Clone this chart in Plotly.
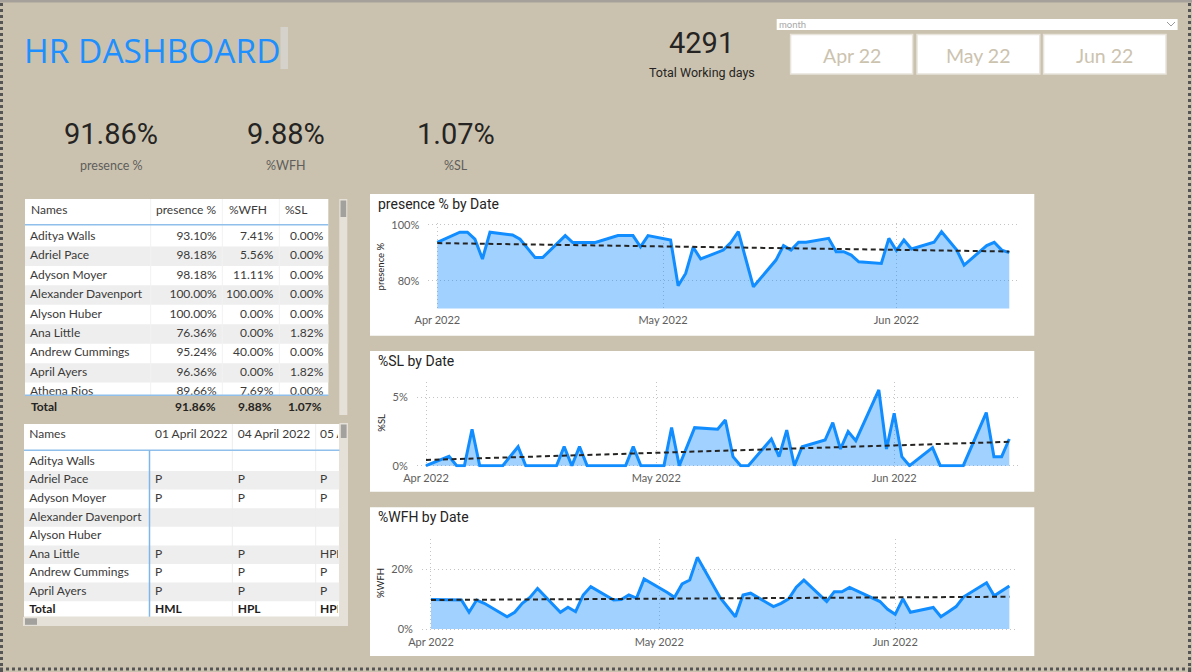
import numpy as np
import pandas as pd
import plotly.graph_objects as go

W, H = 1192, 672

# ---------------- data ----------------
dates = [
    "2022-04-01", "2022-04-04", "2022-04-05", "2022-04-06", "2022-04-07", "2022-04-08",
    "2022-04-11", "2022-04-12", "2022-04-13", "2022-04-14", "2022-04-15",
    "2022-04-18", "2022-04-19", "2022-04-20", "2022-04-21", "2022-04-22",
    "2022-04-25", "2022-04-26", "2022-04-27", "2022-04-28", "2022-04-29",
    "2022-05-02", "2022-05-03", "2022-05-04", "2022-05-05", "2022-05-06",
    "2022-05-09", "2022-05-10", "2022-05-11", "2022-05-12", "2022-05-13",
    "2022-05-16", "2022-05-17", "2022-05-18", "2022-05-19", "2022-05-20",
    "2022-05-23", "2022-05-24", "2022-05-25", "2022-05-26", "2022-05-27",
    "2022-05-30", "2022-05-31",
    "2022-06-01", "2022-06-02", "2022-06-03",
    "2022-06-06", "2022-06-07", "2022-06-08", "2022-06-09", "2022-06-10",
    "2022-06-13", "2022-06-14", "2022-06-15", "2022-06-16",
]

presence_pct = [
    93.8, 97.4, 97.4, 94.9, 87.8, 97.4, 96.4, 94.9, 91.6, 88.3, 88.3,
    96.2, 93.7, 93.7, 93.7, 93.7, 96.2, 96.2, 96.2, 92.2, 96.2,
    94.6, 78.2, 82.6, 92.0, 87.8, 91.0, 93.7, 97.6, 87.7, 77.8,
    87.4, 92.6, 91.0, 93.8, 93.8, 95.2, 90.4, 90.4, 89.2, 86.8, 86.2, 95.2,
    90.8, 94.6, 91.4, 93.8, 97.6, 94.4, 91.1, 85.6, 92.6, 93.8, 91.0, 90.1,
]

sl_pct = [
    0.0, 0.69, 0.0, 0.0, 2.66, 0.0, 0.0, 0.69, 1.39, 0.0, 0.0,
    0.0, 1.39, 0.0, 1.39, 0.0, 0.0, 0.0, 0.0, 1.39, 0.0,
    0.0, 2.78, 0.0, 1.39, 2.78, 2.66, 3.34, 0.66, 0.0, 0.0,
    1.95, 0.66, 2.6, 0.0, 1.39, 1.88, 3.15, 1.22, 2.49, 1.83, 5.54, 1.22,
    3.83, 0.66, 0.0, 1.32, 0.0, 0.0, 0.0, 0.0, 3.88, 0.66, 0.66, 1.95,
]

wfh_pct = [
    9.9, 9.7, 9.7, 5.6, 9.7, 8.6, 4.1, 5.6, 8.6, 10.6, 13.6,
    5.6, 7.3, 5.8, 11.4, 14.2, 9.7, 9.9, 11.4, 10.3, 16.8,
    12.3, 10.6, 15.1, 16.4, 24.0, 10.5, 7.3, 4.1, 11.4, 12.0,
    7.5, 8.6, 10.1, 14.0, 16.4, 9.2, 12.5, 12.5, 13.9, 12.7, 9.2, 6.6,
    4.9, 10.1, 5.6, 7.2, 4.1, 5.8, 7.5, 10.8, 15.5, 11.1, 12.8, 14.4,
]

month_ticks = ["2022-04-01", "2022-05-01", "2022-06-01"]
month_tick_labels = ["Apr 2022", "May 2022", "Jun 2022"]
slicer_months = ["Apr 22", "May 22", "Jun 22"]

total_working_days = 4291
kpi_values = [91.86, 9.88, 1.07]
kpi_labels = ["presence %", "%WFH", "%SL"]

t1_headers = ["Names", "presence %", "%WFH", "%SL"]
t1_names = ["Aditya Walls", "Adriel Pace", "Adyson Moyer", "Alexander Davenport",
            "Alyson Huber", "Ana Little", "Andrew Cummings", "April Ayers", "Athena Rios"]
t1_presence = [93.10, 98.18, 98.18, 100.00, 100.00, 76.36, 95.24, 96.36, 89.66]
t1_wfh = [7.41, 5.56, 11.11, 100.00, 0.00, 0.00, 40.00, 0.00, 7.69]
t1_sl = [0.00, 0.00, 0.00, 0.00, 0.00, 1.82, 0.00, 1.82, 0.00]
t1_total = ["Total", 91.86, 9.88, 1.07]

t2_headers = ["Names", "01 April 2022", "04 April 2022", "05 April 2022"]
t2_names = ["Aditya Walls", "Adriel Pace", "Adyson Moyer", "Alexander Davenport",
            "Alyson Huber", "Ana Little", "Andrew Cummings", "April Ayers"]
t2_d1 = ["", "P", "P", "", "", "P", "P", "P"]
t2_d2 = ["", "P", "P", "", "", "P", "P", "P"]
t2_d3 = ["", "P", "P", "", "", "HPL", "P", "P"]
t2_total = ["Total", "HML", "HPL", "HPL"]

# ---------------- styling helpers ----------------
BG = "#CAC2AE"
BLUE = "#118DFF"
FILL = "rgba(17,141,255,0.40)"
DARK = "#252423"
MID = "#605E5C"
TXT = "#3B3A39"
GRID = "#C4C4C4"
UI = "Segoe UI, Lato, sans-serif"
DIN = "DIN, Roboto, sans-serif"


def px(x):
    return x / W


def py(y):
    return 1 - y / H


shapes = []
annotations = []


def rect(x0, y0, x1, y1, fill, line=None, lw=0, layer="below", dash=None):
    d = dict(type="rect", xref="paper", yref="paper", x0=px(x0), x1=px(x1),
             y0=py(y1), y1=py(y0), fillcolor=fill, layer=layer,
             line=dict(width=lw, color=line or fill))
    if dash:
        d["line"]["dash"] = dash
    shapes.append(d)


def hline(x0, x1, y, color, lw=1, dash=None, layer="above"):
    d = dict(type="line", xref="paper", yref="paper", x0=px(x0), x1=px(x1),
             y0=py(y), y1=py(y), layer=layer, line=dict(color=color, width=lw))
    if dash:
        d["line"]["dash"] = dash
    shapes.append(d)


def vline(x, y0, y1, color, lw=1, dash=None, layer="above"):
    d = dict(type="line", xref="paper", yref="paper", x0=px(x), x1=px(x),
             y0=py(y0), y1=py(y1), layer=layer, line=dict(color=color, width=lw))
    if dash:
        d["line"]["dash"] = dash
    shapes.append(d)


def ann(x, y, text, size, color, family=UI, xanchor="left", weight="normal", angle=0):
    annotations.append(dict(x=px(x), y=py(y), xref="paper", yref="paper", text=text,
                            showarrow=False, xanchor=xanchor, yanchor="middle",
                            textangle=angle,
                            font=dict(size=size, color=color, family=family, weight=weight)))


fig = go.Figure()

# ---------------- frame ----------------
hline(0, W, 1.2, "#A5A19A", lw=2.5)
vline(1.5, 3, H, "#555555", lw=3, dash="dot")
vline(1189.5, 3, H, "#555555", lw=3, dash="dot")
hline(0, W, 669, "#555555", lw=3, dash="dot")

# ---------------- header ----------------
ann(22, 50, "HR DASHBOARD", 33.5, "#1E8FFF", family="Open Sans, Segoe UI, sans-serif")
rect(280.5, 27, 288, 69, "#D5D2CB")

ann(701, 43, str(total_working_days), 29, DARK, family=DIN, xanchor="center")
ann(702, 73, "Total Working days", 12.5, DARK, family=DIN, xanchor="center")

rect(776.7, 19, 1177.6, 30, "white")
ann(777, 24.5, "month", 9.5, "#A8A8A8")
shapes.append(dict(type="path", xref="paper", yref="paper", layer="above",
                   path=f"M {px(1167)} {py(22)} L {px(1171)} {py(26)} L {px(1175)} {py(22)}",
                   line=dict(color="#9A9A9A", width=1)))
box_x = [(790.6, 912.6), (917, 1039.8), (1043.6, 1166)]
for (x0, x1), m in zip(box_x, slicer_months):
    rect(x0, 34.5, x1, 74, "white", line="#E8E4DC", lw=1.5)
    ann((x0 + x1) / 2, 55, m, 19.5, "#CCC3AF", xanchor="center")

# ---------------- KPI cards ----------------
kpi_x = [111, 286, 456]
for x, v, lab in zip(kpi_x, kpi_values, kpi_labels):
    ann(x, 133.5, f"{v:.2f}%", 29, DARK, family=DIN, xanchor="center")
    ann(x, 165.5, lab, 12.5, MID, xanchor="center")

# ---------------- charts ----------------
charts = [
    dict(vals=presence_pct, box=(370, 194, 1034.3, 335.7), apr1=437.3, ppd=7.526,
         ref=((100, 225.0), (80, 280.7)), yr=[70, 100.6], tickvals=[80, 100],
         title="presence % by Date", title_y=204, ytitle="presence %", ytitle_y=266.7),
    dict(vals=sl_pct, box=(370, 351, 1034.3, 491.7), apr1=426.0, ppd=7.675,
         ref=((5, 397.3), (0, 465.7)), yr=[-0.12, 6.14], tickvals=[0, 5],
         title="%SL by Date", title_y=360.7, ytitle="%SL", ytitle_y=423),
    dict(vals=wfh_pct, box=(370, 507.3, 1034.3, 656), apr1=431.0, ppd=7.61,
         ref=((20, 569.3), (0, 629.0)), yr=[-0.6, 30.05], tickvals=[0, 20],
         title="%WFH by Date", title_y=516.7, ytitle="%WFH", ytitle_y=583.3),
]

d0 = pd.Timestamp(dates[0])
dt = pd.to_datetime(dates)
day_num = np.array((dt - d0).days, dtype=float)
pad_l, pad_r = 1.2, 1.17
x_start = d0 - pd.Timedelta(days=pad_l)
x_end = dt[-1] + pd.Timedelta(days=pad_r)

layout_axes = {}
for i, c in enumerate(charts):
    n = "" if i == 0 else str(i + 1)
    xa, ya = "x" + n, "y" + n
    bx0, by0, bx1, by1 = c["box"]
    rect(bx0, by0, bx1, by1, "white")
    (va, pa), (vb, pb) = c["ref"]
    k = (pb - pa) / (vb - va)
    lo, hi = c["yr"]
    y_lo_px = pa + (lo - va) * k
    y_hi_px = pa + (hi - va) * k
    x0_px = c["apr1"] - pad_l * c["ppd"]
    x1_px = c["apr1"] + (day_num[-1] + pad_r) * c["ppd"]

    fig.add_trace(go.Scatter(x=dates, y=c["vals"], mode="lines", xaxis=xa, yaxis=ya,
                             line=dict(color=BLUE, width=3), fill="tozeroy",
                             fillcolor=FILL, hoverinfo="skip"))
    slope, icpt = np.polyfit(day_num, np.array(c["vals"]), 1)
    fig.add_trace(go.Scatter(x=[dates[0], dates[-1]],
                             y=[icpt + slope * day_num[0], icpt + slope * day_num[-1]],
                             mode="lines", xaxis=xa, yaxis=ya, hoverinfo="skip",
                             line=dict(color=DARK, width=2, dash="5px,3.5px")))

    layout_axes["xaxis" + n] = dict(
        domain=[px(x0_px), px(x1_px)], anchor=ya, type="date",
        range=[x_start.strftime("%Y-%m-%d %H:%M"), x_end.strftime("%Y-%m-%d %H:%M")],
        tickmode="array", tickvals=month_ticks, ticktext=month_tick_labels, ticks="",
        showgrid=True, gridcolor=GRID, griddash="1px,3px", gridwidth=1,
        zeroline=False, showline=False, ticklabelstandoff=3, automargin=False,
        tickfont=dict(family=UI, size=11, color=MID), fixedrange=True)
    layout_axes["yaxis" + n] = dict(
        domain=[py(y_lo_px), py(y_hi_px)], anchor=xa, range=c["yr"],
        tickmode="array", tickvals=c["tickvals"],
        ticktext=[f"{v}%" for v in c["tickvals"]], ticks="",
        showgrid=True, gridcolor=GRID, griddash="1px,3px", gridwidth=1,
        zeroline=False, showline=False, ticklabelstandoff=8, automargin=False,
        tickfont=dict(family=UI, size=11, color=MID), fixedrange=True)

    ann(376, c["title_y"], c["title"], 14, DARK, family=DIN)
    ann(380.7, c["ytitle_y"], c["ytitle"], 9.5, DARK, angle=-90, xanchor="center")

# ---------------- table 1 ----------------
T1X0, T1X1, T1Y0, T1Y1 = 25, 328.3, 199, 395
rect(T1X0, T1Y0, T1X1, T1Y1, "white")
r1_top, r1_h = 227.0, 19.45
for i in range(len(t1_names)):
    if i % 2 == 1:
        rect(T1X0, r1_top + i * r1_h, T1X1, min(r1_top + (i + 1) * r1_h, T1Y1), "#EEEEEE")
for xs in (150.7, 222.3, 279.3):
    vline(xs, 199, 395, "#F2F2F2", lw=1, layer="below")
hline(T1X0, T1X1, 224.8, "#8FBFEA", lw=1.5)
hline(T1X0, T1X1, 395.3, "#8FBFEA", lw=1.5)

t1_col_right = [216.7, 273.3, 323.3]
t1_head_left = [30, 155, 228, 284]
for x, h in zip(t1_head_left, t1_headers):
    ann(x - 1, 209.5, h, 12, TXT)

row_y1 = [r1_top + r1_h * (i + 0.5) for i in range(len(t1_names))]
tfont = dict(family=UI, size=12, color=TXT)
fig.add_trace(go.Scatter(x=[30] * len(t1_names), y=row_y1, text=t1_names, mode="text",
                         textposition="middle right", textfont=tfont, cliponaxis=True,
                         xaxis="x4", yaxis="y4", hoverinfo="skip"))
for xr, col in zip(t1_col_right, [t1_presence, t1_wfh, t1_sl]):
    fig.add_trace(go.Scatter(x=[xr] * len(col), y=row_y1, text=[f"{v:.2f}%" for v in col],
                             mode="text", textposition="middle left", textfont=tfont,
                             cliponaxis=True, xaxis="x4", yaxis="y4", hoverinfo="skip"))
layout_axes["xaxis4"] = dict(domain=[px(T1X0), px(T1X1)], range=[T1X0, T1X1], anchor="y4",
                             visible=False, fixedrange=True, automargin=False)
layout_axes["yaxis4"] = dict(domain=[py(T1Y1), py(T1Y0)], range=[T1Y1, T1Y0], anchor="x4",
                             visible=False, fixedrange=True, automargin=False)

ann(29, 406, t1_total[0], 12, DARK, weight="bold")
for xr, v in zip(t1_col_right, t1_total[1:]):
    ann(xr + 1, 406, f"{v:.2f}%", 12, DARK, xanchor="right", weight="bold")

# table 1 scrollbar
rect(339.3, 199, 347.3, 415, "#E5E1D8")
rect(340.5, 200.5, 346.2, 217, "#A3A19E")

# ---------------- table 2 ----------------
T2X0, T2X1, T2Y0, T2Y1 = 24, 339.5, 424, 616.7
rect(T2X0, T2Y0, T2X1, T2Y1, "white")
r2_top, r2_h = 452.4, 18.6
for i in range(len(t2_names)):
    if i % 2 == 1:
        rect(T2X0, r2_top + i * r2_h, T2X1, r2_top + (i + 1) * r2_h, "#EEEEEE")
for xs in (232.3, 315.7):
    vline(xs, 424, 616.7, "#EDEDED", lw=1)
hline(T2X0, T2X1, 450.3, "#8FBFEA", lw=1.5)
vline(149.5, 450.3, 616.7, "#7FB5E8", lw=1.5)

t2_left = [29.3, 155, 237.7, 320]
row_y2 = [r2_top + r2_h * (i + 0.5) for i in range(len(t2_names))]
cols2 = [t2_names, t2_d1, t2_d2, t2_d3]
for x, h, col, tot in zip(t2_left, t2_headers, cols2, t2_total):
    fig.add_trace(go.Scatter(x=[x], y=[434.5], text=[h], mode="text",
                             textposition="middle right", textfont=tfont, cliponaxis=True,
                             xaxis="x5", yaxis="y5", hoverinfo="skip"))
    fig.add_trace(go.Scatter(x=[x] * len(col), y=row_y2, text=col, mode="text",
                             textposition="middle right", textfont=tfont, cliponaxis=True,
                             xaxis="x5", yaxis="y5", hoverinfo="skip"))
    fig.add_trace(go.Scatter(x=[x], y=[609.5], text=[tot], mode="text",
                             textposition="middle right",
                             textfont=dict(family=UI, size=12, color="#1F1E1D", weight="bold"),
                             cliponaxis=True, xaxis="x5", yaxis="y5", hoverinfo="skip"))
layout_axes["xaxis5"] = dict(domain=[px(T2X0), px(T2X1 - 1.5)], range=[T2X0, T2X1 - 1.5],
                             anchor="y5", visible=False, fixedrange=True, automargin=False)
layout_axes["yaxis5"] = dict(domain=[py(T2Y1), py(T2Y0)], range=[T2Y1, T2Y0], anchor="x5",
                             visible=False, fixedrange=True, automargin=False)

# table 2 scrollbars
rect(339.5, 423, 348, 617, "#E5E1D8")
rect(340.8, 424.5, 346.6, 438, "#A3A19E")
rect(23, 617, 348, 626, "#E5E1D8")
rect(25, 618.3, 37, 624.8, "#A3A19E")

fig.update_layout(
    width=W, height=H, margin=dict(l=0, r=0, t=0, b=0, pad=0, autoexpand=False),
    paper_bgcolor=BG, plot_bgcolor="rgba(0,0,0,0)",
    showlegend=False, hovermode=False,
    shapes=shapes, annotations=annotations,
    **layout_axes,
)

fig.write_html("out.html", config={"displayModeBar": False},
               post_script="document.body.style.margin='0';document.body.style.overflow='hidden';")
